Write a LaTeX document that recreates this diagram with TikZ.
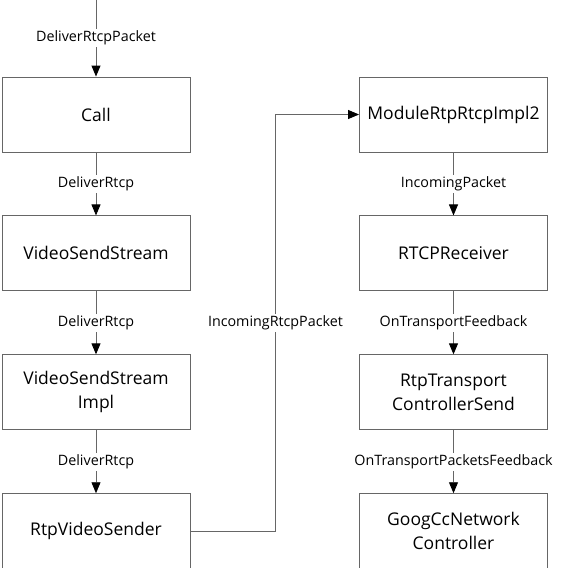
\documentclass[tikz,border=0pt]{standalone}
\usepackage{fontspec}
\setmainfont{Open Sans}
\usetikzlibrary{positioning,calc,arrows.meta}

\tikzset{
    block/.style={draw=black!60, line width=0.9pt, minimum width=188pt, minimum height=75pt,
        align=center, font=\fontsize{17.5}{24}\selectfont},
    flow/.style={draw=black!60, line width=0.9pt, -{Triangle[length=11pt,width=9pt,color=black]}},
    tag/.style={fill=white, inner sep=2pt, font=\fontsize{14.3}{17}\selectfont}
}

\begin{document}
\begin{tikzpicture}[x=1pt,y=1pt]
    \useasboundingbox (0,0) rectangle (563,-568);

    % Left column
    \node[block] (call) at (96,-114.5) {Call};
    \node[block, below=63pt of call] (vss) {VideoSendStream};
    \node[block, below=63pt of vss] (vssimpl) {VideoSendStream\\Impl};
    \node[block, below=63pt of vssimpl] (sender) {RtpVideoSender};

    % Right column
    \node[block] (module) at (453.5,-114.5) {ModuleRtpRtcpImpl2};
    \node[block, below=63pt of module] (receiver) {RTCPReceiver};
    \node[block, below=63pt of receiver] (transport) {RtpTransport\\ControllerSend};
    \node[block, below=63pt of transport] (googcc) {GoogCcNetwork\\Controller};

    % Entry
    \coordinate (entry) at (96,0);

    % Connectors
    \draw[flow] (entry) -- node[tag] {DeliverRtcpPacket} (call);
    \draw[flow] (call) -- node[tag] {DeliverRtcp} (vss);
    \draw[flow] (vss) -- node[tag] {DeliverRtcp} (vssimpl);
    \draw[flow] (vssimpl) -- node[tag] {DeliverRtcp} (sender);
    \draw[flow] (sender.east) -- ++(85,0) |- node[tag, pos=0.25] {IncomingRtcpPacket} (module.west);
    \draw[flow] (module) -- node[tag] {IncomingPacket} (receiver);
    \draw[flow] (receiver) -- node[tag] {OnTransportFeedback} (transport);
    \draw[flow] (transport) -- node[tag] {OnTransportPacketsFeedback} (googcc);
\end{tikzpicture}
\end{document}
